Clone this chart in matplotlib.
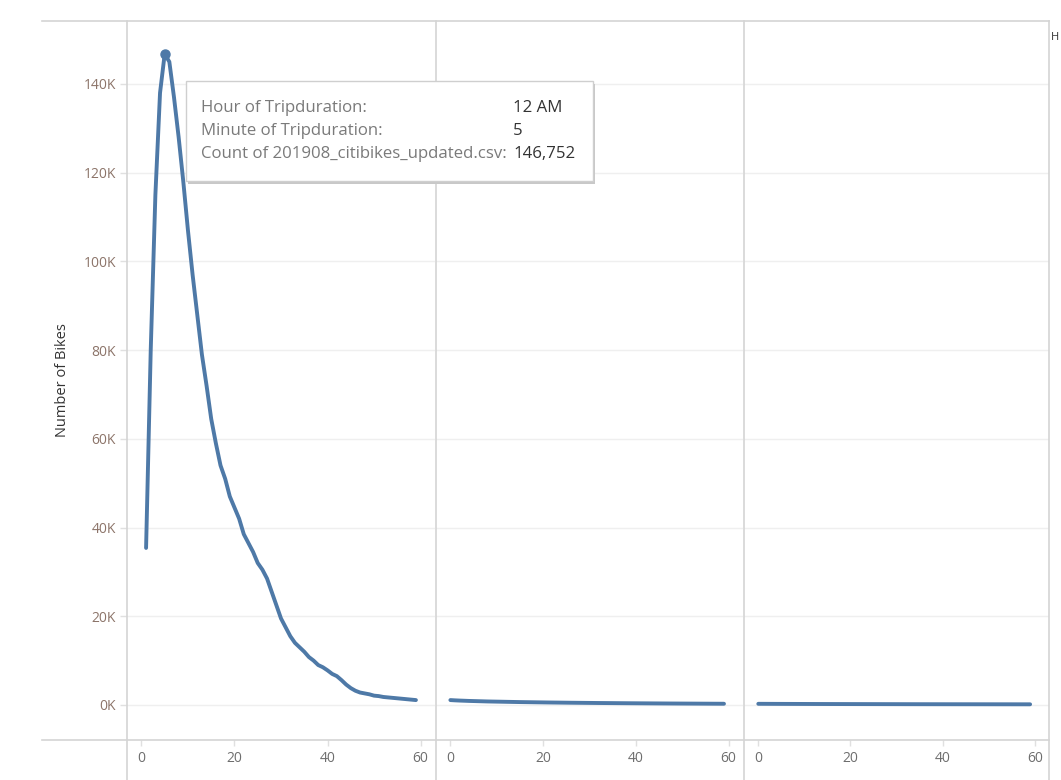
import numpy as np
import matplotlib
matplotlib.use("Agg")
import matplotlib.pyplot as plt
from matplotlib.lines import Line2D
from matplotlib.patches import Rectangle
from matplotlib.ticker import FuncFormatter

plt.rcParams['font.family'] = ['Open Sans', 'DejaVu Sans']

# Minute of trip duration, one panel per hour (12 AM, 1 AM, 2 AM)
minutes_h0 = list(range(1, 60))
counts_h0 = [35400, 80000, 115000, 138000, 146752, 145000, 137000, 128000, 118000, 107000,
             97000, 88000, 79000, 72000, 64500, 59000, 54000, 51000, 47000, 44500,
             42000, 38500, 36500, 34500, 32000, 30500, 28500, 25500, 22500, 19500,
             17500, 15500, 14000, 13000, 12000, 10800, 10000, 9000, 8500, 7800,
             7000, 6500, 5600, 4600, 3800, 3200, 2800, 2600, 2400, 2100,
             2000, 1800, 1700, 1600, 1500, 1400, 1300, 1200, 1100]

minutes_h1 = list(range(0, 60))
counts_h1 = [1100, 1040, 990, 950, 910, 880, 850, 820, 790, 770,
             750, 730, 710, 690, 670, 650, 635, 620, 605, 590,
             575, 560, 548, 536, 524, 512, 500, 490, 480, 470,
             460, 450, 440, 432, 424, 416, 408, 400, 392, 385,
             378, 371, 364, 357, 350, 344, 338, 332, 326, 320,
             315, 310, 305, 300, 295, 290, 285, 280, 276, 272]

minutes_h2 = list(range(0, 60))
counts_h2 = [260, 256, 252, 248, 244, 240, 237, 234, 231, 228,
             225, 222, 219, 216, 213, 210, 208, 206, 204, 202,
             200, 198, 196, 194, 192, 190, 188, 186, 184, 182,
             180, 178, 176, 174, 172, 170, 169, 168, 167, 166,
             165, 164, 163, 162, 161, 160, 159, 158, 157, 156,
             155, 154, 153, 152, 151, 150, 149, 148, 147, 146]

y_ticks = [0, 20000, 40000, 60000, 80000, 100000, 120000, 140000]
x_ticks = [0, 20, 40, 60]

LINE_COLOR = '#4e79a7'
BORDER = '#d4d4d4'
GRID = '#efefef'
TICK_COLOR = '#6e6e6e'
YTICK_COLOR = '#8c7469'

W, H = 1061, 780
fig = plt.figure(figsize=(W / 100, H / 100), dpi=100)

panels = [(127, 308, minutes_h0, counts_h0),
          (436, 307, minutes_h1, counts_h1),
          (744, 305, minutes_h2, counts_h2)]

y0, y1 = 740, 21
axes = []
for i, (px, pw, mins, cnts) in enumerate(panels):
    ax = fig.add_axes([px / W, 1 - y0 / H, pw / W, (y0 - y1) / H])
    ax.plot(mins, cnts, color=LINE_COLOR, lw=2.8, solid_capstyle='round',
            solid_joinstyle='round')
    ax.set_xlim(-3.1, 63.1)
    ax.set_ylim(-7900, 154200)
    ax.set_yticks(y_ticks)
    ax.set_xticks(x_ticks)
    ax.grid(axis='y', color=GRID, lw=1)
    ax.set_axisbelow(True)
    for s in ax.spines.values():
        s.set_visible(False)
    ax.tick_params(axis='x', colors='#e0e0e0', length=4, width=1, labelcolor=TICK_COLOR,
                   labelsize=10, pad=4)
    if i == 0:
        ax.tick_params(axis='y', colors='#e0e0e0', length=5, width=1,
                       labelcolor=YTICK_COLOR, labelsize=10, pad=3)
        ax.yaxis.set_major_formatter(FuncFormatter(lambda v, p: f'{int(v / 1000)}K'))
    else:
        ax.tick_params(axis='y', left=False, labelleft=False)
    axes.append(ax)

fig.text(62 / W, 1 - 380 / H, 'Number of Bikes', rotation=90, fontsize=10.5,
         color='#333333', ha='center', va='center')

# highlighted peak point
ax0 = axes[0]
ax0.plot([5], [146752], 'o', color=LINE_COLOR, ms=6.5, zorder=5)

# frame lines (Tableau style)
def fline(xa, ya, xb, yb, color=BORDER, lw=1.2):
    fig.add_artist(Line2D([xa / W, xb / W], [1 - ya / H, 1 - yb / H],
                          color=color, lw=lw, transform=fig.transFigure))

fline(42, 21, 1049, 21)
fline(42, 740, 1049, 740)
for xv in [127, 435.5, 743.5, 1049]:
    fline(xv, 21, xv, 780)

# tooltip
tx, ty, tw, th = 186, 81, 407, 100
fig.add_artist(Rectangle(((tx + 2) / W, 1 - (ty + th + 3) / H), tw / W, th / H,
                         transform=fig.transFigure, facecolor='#c8c8c8',
                         edgecolor='none', zorder=9))
fig.add_artist(Rectangle((tx / W, 1 - (ty + th) / H), tw / W, th / H,
                         transform=fig.transFigure, facecolor='white',
                         edgecolor='#cfcfcf', lw=1, zorder=10))
tip_labels = ['Hour of Tripduration:', 'Minute of Tripduration:',
              'Count of 201908_citibikes_updated.csv:']
tip_values = ['12 AM', '5', '146,752']
for k, (lab, val) in enumerate(zip(tip_labels, tip_values)):
    yy = 1 - (108 + 23 * k) / H
    fig.text(201 / W, yy, lab, fontsize=12.1, color='#7a7a7a', va='center', zorder=11)
    fig.text(513 / W, yy, val, fontsize=12.1, color='#333333', va='center', zorder=11)

# header, only its first letter shows at the right edge
fig.text(1051 / W, 1 - 37 / H, 'H', fontsize=8, color='#333333', va='center')

fig.savefig('out.png', dpi=100)
